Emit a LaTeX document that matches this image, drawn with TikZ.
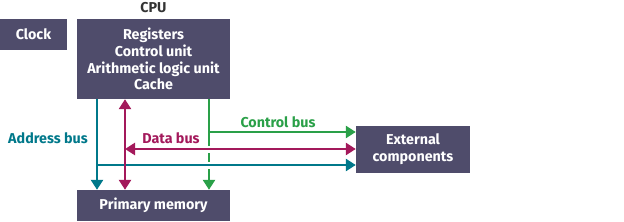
\documentclass[tikz,border=0pt]{standalone}
\usepackage{fontspec}
\setmainfont{Fira Sans}
\usetikzlibrary{arrows.meta}
\definecolor{boxc}{HTML}{4F4C6B}
\definecolor{teal2}{HTML}{00788A}
\definecolor{mag}{HTML}{A3195B}
\definecolor{grn}{HTML}{2AA048}
\definecolor{txt}{HTML}{333333}
\tikzset{
  box/.style={fill=boxc, text=white, font=\bfseries\fontsize{14.3}{16.7}\selectfont, align=center, inner sep=0pt, minimum height=31pt},
  bus/.style={line width=2.8pt, -{Triangle[length=10pt,width=12pt]}},
  dbus/.style={line width=2.8pt, {Triangle[length=10pt,width=12pt]}-{Triangle[length=10pt,width=12pt]}},
  gap/.style={preaction={draw=white, line width=7pt, -}},
  lab/.style={font=\bfseries\fontsize{14.3}{16}\selectfont},
}
\begin{document}
\begin{tikzpicture}[x=1pt,y=-1pt]
\useasboundingbox (0,0) rectangle (624,222);
\node[box, minimum width=67pt] (clock) at (33.5,34.5) {Clock};
\node[box, minimum width=153pt, minimum height=80pt] (cpu) at (153.5,59) {Registers\\Control unit\\Arithmetic logic unit\\Cache};
\node[lab, text=txt] (cpulab) at (153.5,8) {CPU};
\node[box, minimum width=153pt] (mem) at (153.5,205.5) {Primary memory};
\node[box, minimum width=114pt, minimum height=47pt] (ext) at (413,149.5) {External\\components};
% control bus
\coordinate (cj) at (209,132);
\draw[bus, draw=grn, color=grn] (cpu.south -| cj) -- (mem.north -| cj);
\draw[bus, draw=grn, color=grn] (cj) -- (ext.west |- cj);
% data bus
\coordinate (dj) at (125,149);
\draw[dbus, draw=mag, color=mag, gap] (ext.west |- dj) -- (dj);
% address bus
\coordinate (aj) at (97,165);
\draw[bus, draw=teal2, color=teal2, gap] (aj) -- (ext.west |- aj);
\draw[bus, draw=teal2, color=teal2] (cpu.south -| aj) -- (mem.north -| aj);
\draw[dbus, draw=mag, color=mag] (cpu.south -| dj) -- (mem.north -| dj);
% labels
\node[lab, text=teal2] (alab) at (48,138) {Address bus};
\node[lab, text=mag] (dlab) at (171,138) {Data bus};
\node[lab, text=grn] (clab) at (278,122) {Control bus};
\end{tikzpicture}
\end{document}
